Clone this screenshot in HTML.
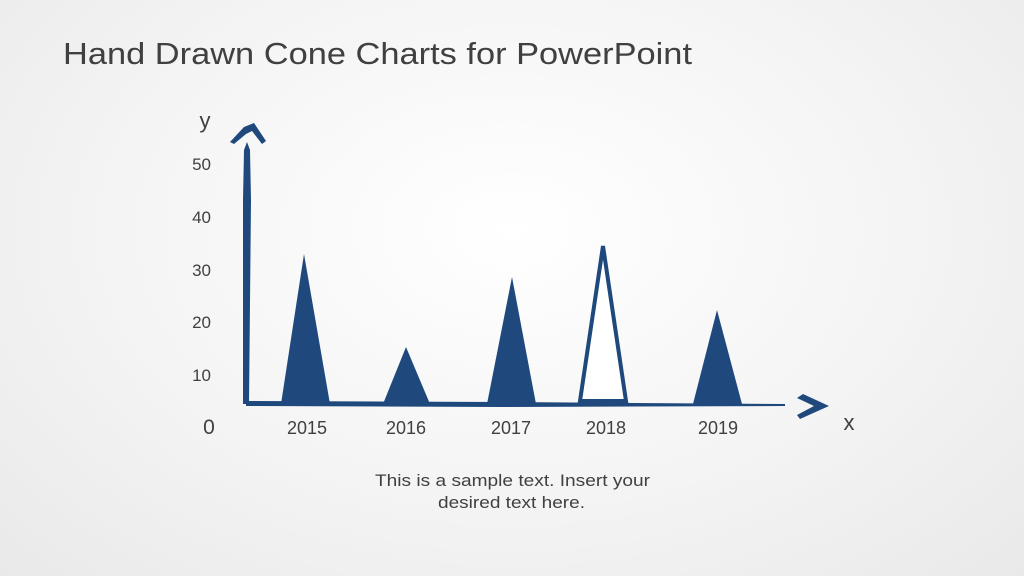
<!DOCTYPE html>
<html><head><style>
body{margin:0;width:1024px;height:576px;overflow:hidden;background:radial-gradient(ellipse at 50% 40%,#ffffff 0%,#f4f4f4 55%,#e9e9e9 100%);font-family:"Liberation Sans",sans-serif}
</style></head><body>
<svg width="1024" height="576" viewBox="0 0 1024 576" xmlns="http://www.w3.org/2000/svg" style="position:absolute;left:0;top:0">
<text x="63" y="64" font-family="Liberation Sans, sans-serif" font-size="31" fill="#404040" textLength="629" lengthAdjust="spacingAndGlyphs">Hand Drawn Cone Charts for PowerPoint</text>
<g fill="#1f497d">
<path d="M243,404 L243,200 L244,150 L247,142 L250,150 L251,200 L249,404 Z"/>
<path d="M230,142 L244,127 L254,123 L266,141 L262,144 L252,131 L246,134 L234,144 Z"/>
<path d="M246,401 L500,402 L785,404 L785,406 L500,407 L246,406 Z"/>
<path d="M797,398 L803,394 L829,406 L800,419 L797,415 L814,406 Z"/>
<path d="M304,254 L330,404 L281,404 Z"/>
<path d="M406,347 L430,404 L383,404 Z"/>
<path d="M512,277 L536,404 L487,404 Z"/>
<path d="M717,310 L742,404 L693,404 Z"/>
</g>
<path d="M603,246 L626,401 L580,401 Z" fill="#ffffff" stroke="#1f497d" stroke-width="4" stroke-linejoin="miter"/>
<g font-family="Liberation Sans, sans-serif" fill="#404040">
<text x="205" y="128" font-size="22" text-anchor="middle">y</text>
<text x="849" y="430" font-size="22" text-anchor="middle">x</text>
<g font-size="17" text-anchor="end">
<text x="211" y="170">50</text>
<text x="211" y="223">40</text>
<text x="211" y="276">30</text>
<text x="211" y="328">20</text>
<text x="211" y="381">10</text>
</g>
<text x="209" y="434" font-size="21" text-anchor="middle">0</text>
<g font-size="18" text-anchor="middle">
<text x="307" y="434">2015</text>
<text x="406" y="434">2016</text>
<text x="511" y="434">2017</text>
<text x="606" y="434">2018</text>
<text x="718" y="434">2019</text>
</g>
<g font-size="17">
<text x="375" y="486" textLength="275" lengthAdjust="spacingAndGlyphs">This is a sample text. Insert your</text>
<text x="438" y="508" textLength="147" lengthAdjust="spacingAndGlyphs">desired text here.</text>
</g>
</g>
</svg>
</body></html>
